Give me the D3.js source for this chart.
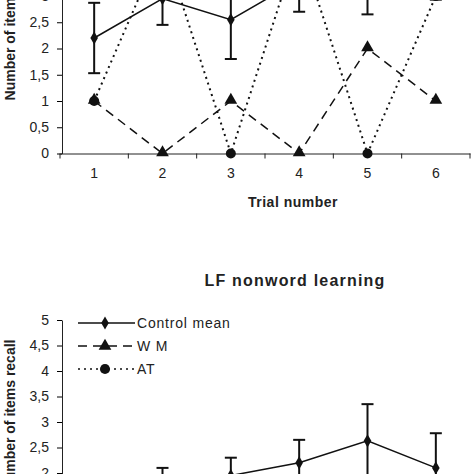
<!DOCTYPE html>
<html><head><meta charset="utf-8">
<script src="https://cdn.jsdelivr.net/npm/d3@7"></script>
<style>
body{margin:0;background:#fff}
text{font-family:"Liberation Sans",Arial,sans-serif;fill:#222}
</style></head>
<body><div id="chart"></div>
<script>
var trials = [1, 2, 3, 4, 5, 6];
var yTicks = [0, 0.5, 1, 1.5, 2, 2.5, 3, 3.5, 4, 4.5, 5];

// top panel (cut off at the top)
var topControl = [2.2, 2.95, 2.55, 3.3, 3.4, 3.05];
var topControlErr = [0.67, 0.5, 0.75, 0.6, 0.75, 0.12];
var topWM = [1, 0, 1, 0, 2, 1];
var topAT = [1, 4, 0, 4, 0, 3];

// bottom panel (LF nonword learning)
var lfControl = [1.2, 1.6, 1.95, 2.2, 2.63, 2.1];
var lfControlErr = [0.4, 0.5, 0.35, 0.45, 0.72, 0.68];
var lfWM = [0, 1, 1, 1, 1, 1];
var lfAT = [0, 0, 1, 1, 0, 1];

var svgWidth = 474, svgHeight = 474;
var svg = d3.select("#chart").append("svg").attr("width", svgWidth).attr("height", svgHeight);

var xScale = d3.scaleBand().domain(trials).range([60, 470]);
var fmt = d => String(d).replace(".", ",");

function drawPanel(y0, unit, control, err, wm, at, labelY) {
    var yScale = d3.scaleLinear().domain([0, 5]).range([y0, y0 - 5 * unit]);
    var g = svg.append("g");

    var xAxis = g.append("g").attr("transform", `translate(0,${y0})`)
        .call(d3.axisBottom(xScale).tickSize(0).tickPadding(15));
    xAxis.select(".domain").attr("stroke", "#222");
    xAxis.selectAll("text").style("font-size", "14px");
    g.selectAll(".xt").data(d3.range(7)).enter().append("line")
        .attr("x1", i => 60 + i * xScale.bandwidth()).attr("x2", i => 60 + i * xScale.bandwidth())
        .attr("y1", y0).attr("y2", y0 + 5).attr("stroke", "#222");

    var yAxis = g.append("g").attr("transform", "translate(62,0)")
        .call(d3.axisLeft(yScale).tickValues(yTicks).tickFormat(fmt).tickSize(5).tickSizeOuter(0).tickPadding(8));
    yAxis.select(".domain").attr("stroke", "#222");
    yAxis.selectAll("text").style("font-size", "14px");

    var cx = d => xScale(d) + xScale.bandwidth() / 2;
    var line = vals => d3.line().x((v, i) => cx(trials[i])).y(v => yScale(v))(vals);

    g.append("path").attr("d", line(wm)).attr("fill", "none").attr("stroke", "#111")
        .attr("stroke-width", 1.5).attr("stroke-dasharray", "9,6");
    g.append("path").attr("d", line(at)).attr("fill", "none").attr("stroke", "#111")
        .attr("stroke-width", 2).attr("stroke-dasharray", "2,4");
    g.append("path").attr("d", line(control)).attr("fill", "none").attr("stroke", "#111").attr("stroke-width", 1.5);

    trials.forEach(function(t, i) {
        var x = cx(t);
        g.append("line").attr("x1", x).attr("x2", x)
            .attr("y1", yScale(control[i] - err[i])).attr("y2", yScale(control[i] + err[i]))
            .attr("stroke", "#111").attr("stroke-width", 2);
        [control[i] - err[i], control[i] + err[i]].forEach(function(v) {
            g.append("line").attr("x1", x - 6).attr("x2", x + 6).attr("y1", yScale(v)).attr("y2", yScale(v))
                .attr("stroke", "#111").attr("stroke-width", 2);
        });
    });

    g.selectAll(".tri").data(wm).enter().append("path")
        .attr("d", d3.symbol().type(d3.symbolTriangle).size(70))
        .attr("transform", (v, i) => `translate(${cx(trials[i])},${yScale(v) - 1})`).attr("fill", "#111");
    g.selectAll(".circ").data(at).enter().append("circle")
        .attr("cx", (v, i) => cx(trials[i])).attr("cy", v => yScale(v)).attr("r", 5).attr("fill", "#111");
    g.selectAll(".dia").data(control).enter().append("path")
        .attr("d", d3.symbol().type(d3.symbolDiamond).size(50))
        .attr("transform", (v, i) => `translate(${cx(trials[i])},${yScale(v)})`).attr("fill", "#111");

    g.append("text").attr("transform", `translate(15,${labelY}) rotate(-90)`)
        .attr("text-anchor", "middle").style("font-size", "14px").style("font-weight", "bold")
        .text("Number of items recall");
}

drawPanel(153.5, 52.5, topControl, topControlErr, topWM, topAT, 25);
svg.append("text").attr("x", 293).attr("y", 207).attr("text-anchor", "middle")
    .style("font-size", "14px").style("font-weight", "bold").style("letter-spacing", "0.5px").text("Trial number");

drawPanel(575, 51, lfControl, lfControlErr, lfWM, lfAT, 415);
svg.append("text").attr("x", 295).attr("y", 286).attr("text-anchor", "middle")
    .style("font-size", "16px").style("font-weight", "bold").style("letter-spacing", "1.2px").text("LF nonword learning");

var legend = [
    {name: "Control mean", dash: null, sym: d3.symbolDiamond, size: 50},
    {name: "W M", dash: "9,6", sym: d3.symbolTriangle, size: 70},
    {name: "AT", dash: "2,4", sym: d3.symbolCircle, size: 80}
];
legend.forEach(function(l, i) {
    var y = 323 + i * 23;
    svg.append("line").attr("x1", 78).attr("x2", 135).attr("y1", y).attr("y2", y)
        .attr("stroke", "#111").attr("stroke-width", 1.5).attr("stroke-dasharray", l.dash);
    svg.append("path").attr("d", d3.symbol().type(l.sym).size(l.size))
        .attr("transform", `translate(105,${y})`).attr("fill", "#111");
    svg.append("text").attr("x", 137).attr("y", y + 5).style("font-size", "14px")
        .style("letter-spacing", "0.8px").text(l.name);
});
</script></body></html>
